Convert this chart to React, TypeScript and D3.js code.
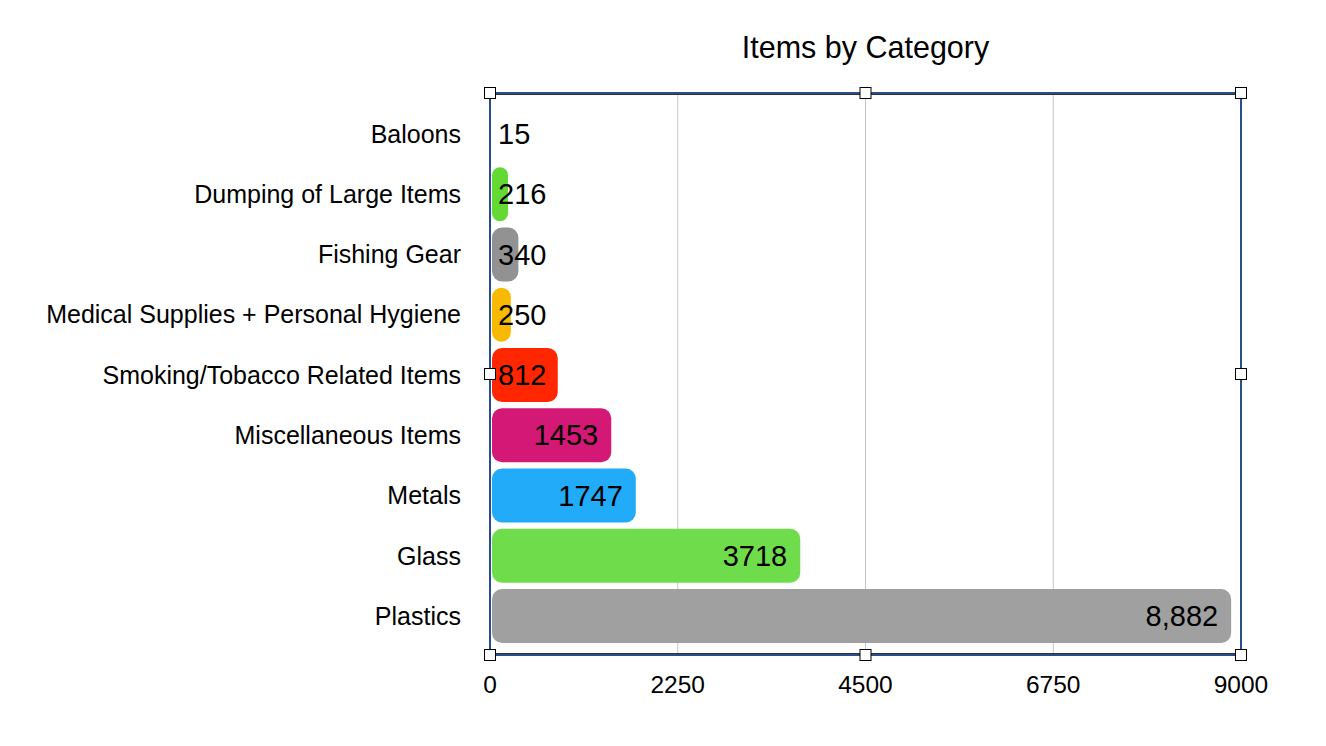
import React from "react";
import * as d3 from "d3";

const categories = [
  "Baloons",
  "Dumping of Large Items",
  "Fishing Gear",
  "Medical Supplies + Personal Hygiene",
  "Smoking/Tobacco Related Items",
  "Miscellaneous Items",
  "Metals",
  "Glass",
  "Plastics",
];
const values = [15, 216, 340, 250, 812, 1453, 1747, 3718, 8882];
const valueLabels = ["15", "216", "340", "250", "812", "1453", "1747", "3718", "8,882"];
const colors = [
  "#5fd93a",
  "#63d934",
  "#929292",
  "#f8ba00",
  "#ff2600",
  "#d31876",
  "#22abf8",
  "#6fdd4b",
  "#a0a0a0",
];
const ticks = [0, 2250, 4500, 6750, 9000];

const W = 1326;
const H = 746;
const left = 490;
const right = 1241;
const top = 93;
const bottom = 655;
const FONT = "'Liberation Sans', Arial, Helvetica, sans-serif";

export default function App() {
  const x = d3.scaleLinear().domain([0, 9000]).range([left, right]);
  const y = d3
    .scaleBand<string>()
    .domain(categories)
    .range([107, 643])
    .paddingInner(0.104)
    .paddingOuter(0);
  const bh = y.bandwidth();
  const labelFont = 29;

  const handles: [number, number][] = [
    [left, top],
    [(left + right) / 2, top],
    [right, top],
    [left, (top + bottom) / 2],
    [right, (top + bottom) / 2],
    [left, bottom],
    [(left + right) / 2, bottom],
    [right, bottom],
  ];

  return (
    <svg width={W} height={H} style={{ position: "absolute", left: 0, top: 0, background: "#fff" }}>
      <text x={(left + right) / 2} y={58} textAnchor="middle" fontFamily={FONT} fontSize={30.5} fill="#000">
        Items by Category
      </text>
      {ticks.slice(1, -1).map((t) => (
        <line key={t} x1={x(t)} x2={x(t)} y1={top} y2={bottom} stroke="#c4c4c4" strokeWidth={1} />
      ))}
      {categories.map((c, i) => {
        const x0 = x(0) + 2;
        const w = Math.max(0, x(values[i]) - x(0) - 2);
        const yy = y(c)!;
        const r = Math.min(10, w / 2);
        const lbl = valueLabels[i];
        const labelW = (lbl.replace(",", "").length * 0.556 + (lbl.includes(",") ? 0.278 : 0)) * labelFont;
        const inside = w > labelW + 22;
        return (
          <g key={c}>
            {w > 1.5 && (
              <rect x={x0} y={yy} width={w} height={bh} rx={r} ry={r} fill={colors[i]} />
            )}
            <text
              x={inside ? x0 + w - 13 : x0 + 6}
              y={yy + bh / 2}
              dy="0.35em"
              textAnchor={inside ? "end" : "start"}
              fontFamily={FONT}
              fontSize={labelFont}
              fill="#000"
            >
              {lbl}
            </text>
            <text
              x={461}
              y={yy + bh / 2}
              dy="0.35em"
              textAnchor="end"
              fontFamily={FONT}
              fontSize={25}
              fill="#000"
            >
              {c}
            </text>
          </g>
        );
      })}
      <rect x={left} y={top} width={right - left} height={bottom - top} fill="none" stroke="#2a4d8c" strokeWidth={2} />
      <line x1={left} x2={right} y1={top + 1.5} y2={top + 1.5} stroke="#333" strokeWidth={1} />
      <line x1={left} x2={right} y1={bottom - 1.5} y2={bottom - 1.5} stroke="#333" strokeWidth={1} />
      {ticks.map((t) => (
        <text key={t} x={x(t)} y={693} textAnchor="middle" fontFamily={FONT} fontSize={24.5} fill="#000">
          {t}
        </text>
      ))}
      {handles.map(([hx, hy], i) => (
        <rect key={i} x={hx - 5.5} y={hy - 5.5} width={11} height={11} fill="#fff" stroke="#000" strokeWidth={1} />
      ))}
    </svg>
  );
}
